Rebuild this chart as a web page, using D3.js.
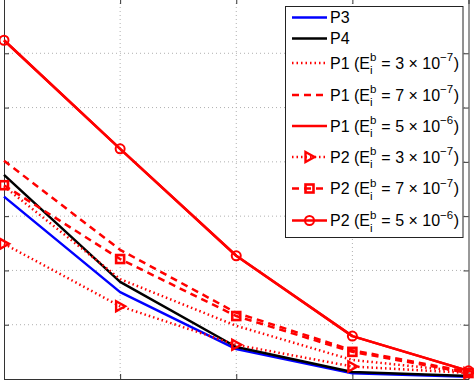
<!DOCTYPE html>
<html>
<head>
<meta charset="utf-8">
<script src="https://cdn.jsdelivr.net/npm/d3@7"></script>
<style>
  html, body { margin: 0; padding: 0; background: #fff; }
  svg { display: block; font-family: "Liberation Sans", Arial, sans-serif; }
  svg text { white-space: pre; }
</style>
</head>
<body>
<svg id="chart" width="474" height="380"></svg>
<script>
// ---- data (y in grid units) ----
const xValues = [1, 2, 3, 4, 5];
const xTicks = [1, 2, 3, 4, 5];
const yTicks = [0, 1, 2, 3, 4, 5, 6, 7];

const p3 = [3.36, 1.60, 0.55, 0.105, 0.04];
const p4 = [3.76, 1.79, 0.59, 0.13, 0.055];
const p1Low = [3.55, 1.84, 0.98, 0.35, 0.13];
const p1Mid = [4.02, 2.38, 1.22, 0.53, 0.13];
const p1High = [6.24, 4.24, 2.27, 0.79, 0.15];
const p2Low = [2.49, 1.34, 0.63, 0.23, 0.11];
const p2Mid = [3.57, 2.21, 1.16, 0.50, 0.11];
const p2High = [6.24, 4.24, 2.27, 0.79, 0.15];

const seriesNames = ["P3", "P4", "P1", "P1", "P1", "P2", "P2", "P2"];
const energyMantissa = [null, null, "3", "7", "5", "3", "7", "5"];
const energyExponent = [null, null, "\u22127", "\u22127", "\u22126", "\u22127", "\u22127", "\u22126"];

const series = [
  { values: p3, color: "#0000ff", dash: null, marker: null },
  { values: p4, color: "#000000", dash: null, marker: null },
  { values: p1Low, color: "#ff0000", dash: "1.5,3", marker: null },
  { values: p1Mid, color: "#ff0000", dash: "7,5", marker: null },
  { values: p1High, color: "#ff0000", dash: null, marker: null },
  { values: p2Low, color: "#ff0000", dash: "1.5,3", marker: "triangle" },
  { values: p2Mid, color: "#ff0000", dash: "7,5", marker: "square" },
  { values: p2High, color: "#ff0000", dash: null, marker: "circle" }
];
series.forEach((s, i) => { s.name = seriesNames[i]; s.mant = energyMantissa[i]; s.exp = energyExponent[i]; });

// ---- layout ----
const svg = d3.select("#chart");
const plotLeft = 4, plotRight = 468.5, plotTop = -1, plotBottom = 379;

const x = d3.scaleLinear().domain([1, 5]).range([plotLeft, plotRight]);
const y = d3.scaleLinear().domain([0, 7]).range([plotBottom, plotTop]);

// grid
const grid = svg.append("g").attr("stroke", "#b0b0b0").attr("stroke-width", 1)
  .attr("stroke-dasharray", "1,3");
grid.selectAll("line.v").data(xTicks.slice(1, -1)).join("line").attr("class", "v")
  .attr("x1", d => x(d)).attr("x2", d => x(d)).attr("y1", plotTop).attr("y2", plotBottom);
grid.selectAll("line.h").data(yTicks.slice(1, -1)).join("line").attr("class", "h")
  .attr("x1", plotLeft).attr("x2", plotRight).attr("y1", d => y(d)).attr("y2", d => y(d));

// axes (ticks inward, no labels)
function styleAxis(g) {
  g.selectAll("text").remove();
  g.selectAll("path, line").attr("stroke", "#333").attr("stroke-width", 1);
}
svg.append("g").attr("transform", `translate(${plotLeft},0)`)
  .call(d3.axisLeft(y).tickValues(yTicks).tickSize(-5).tickSizeOuter(0).tickFormat(""))
  .call(styleAxis);
svg.append("g").attr("transform", `translate(${plotRight},0)`)
  .call(d3.axisRight(y).tickValues(yTicks).tickSize(-5).tickSizeOuter(0).tickFormat(""))
  .call(styleAxis);
svg.append("g").attr("transform", `translate(0,${plotBottom})`)
  .call(d3.axisBottom(x).tickValues(xTicks).tickSize(-5).tickSizeOuter(0).tickFormat(""))
  .call(styleAxis);
svg.append("g").attr("transform", `translate(0,${plotTop})`)
  .call(d3.axisTop(x).tickValues(xTicks).tickSize(-5).tickSizeOuter(0).tickFormat(""))
  .call(styleAxis);

// markers
function drawMarker(g, type, cx, cy, color) {
  if (type === "circle") {
    g.append("circle").attr("cx", cx).attr("cy", cy).attr("r", 4.5)
      .attr("fill", "none").attr("stroke", color).attr("stroke-width", 2);
  } else if (type === "square") {
    g.append("rect").attr("x", cx - 4).attr("y", cy - 4).attr("width", 8).attr("height", 8)
      .attr("fill", "none").attr("stroke", color).attr("stroke-width", 2.6);
  } else if (type === "triangle") {
    g.append("path").attr("d", `M${cx - 4},${cy - 5}L${cx + 5},${cy}L${cx - 4},${cy + 5}Z`)
      .attr("fill", "none").attr("stroke", color).attr("stroke-width", 2.4);
  }
}

const line = d3.line().x((d, i) => x(xValues[i])).y(d => y(d));
const plot = svg.append("g");
series.forEach(s => {
  plot.append("path").datum(s.values).attr("d", line)
    .attr("fill", "none").attr("stroke", s.color).attr("stroke-width", 2.5)
    .attr("stroke-linejoin", "round")
    .attr("stroke-dasharray", s.dash);
  if (s.marker) {
    s.values.forEach((v, i) => drawMarker(plot, s.marker, x(xValues[i]), y(v), s.color));
  }
});

// legend
const legendRows = [17.5, 38.5, 63, 95, 126, 157, 188.5, 220.5];
const lg = svg.append("g");
lg.append("rect").attr("x", 285.5).attr("y", 6.5).attr("width", 177.5).attr("height", 231)
  .attr("fill", "#fff").attr("stroke", "#222").attr("stroke-width", 1);

const fs = 16, fsSmall = 11.5;
series.forEach((s, i) => {
  const ly = legendRows[i];
  lg.append("line").attr("x1", 292).attr("x2", 327).attr("y1", ly).attr("y2", ly)
    .attr("stroke", s.color).attr("stroke-width", 2.5).attr("stroke-dasharray", s.dash);
  if (s.marker) drawMarker(lg, s.marker, 309.5, ly, s.color);

  const base = ly + 5.5;
  let cx = 330;
  function put(str, size, dy) {
    const t = lg.append("text").attr("x", cx).attr("y", base + dy)
      .attr("font-size", size).attr("fill", "#000").text(str);
    return t.node().getComputedTextLength();
  }
  if (!s.mant) {
    put(s.name, fs, 0);
    return;
  }
  cx += put(s.name + " (E", fs, 0);
  const wb = put("b", fsSmall, -7.5);
  const wi = put("i", fsSmall, 5.5);
  cx += Math.max(wb, wi) + 0.5;
  cx += put(" = " + s.mant + " \u00d7 10", fs, 0);
  cx += put(s.exp, fsSmall, -7.5) + 0.5;
  put(")", fs, 0);
});
</script>
</body>
</html>
